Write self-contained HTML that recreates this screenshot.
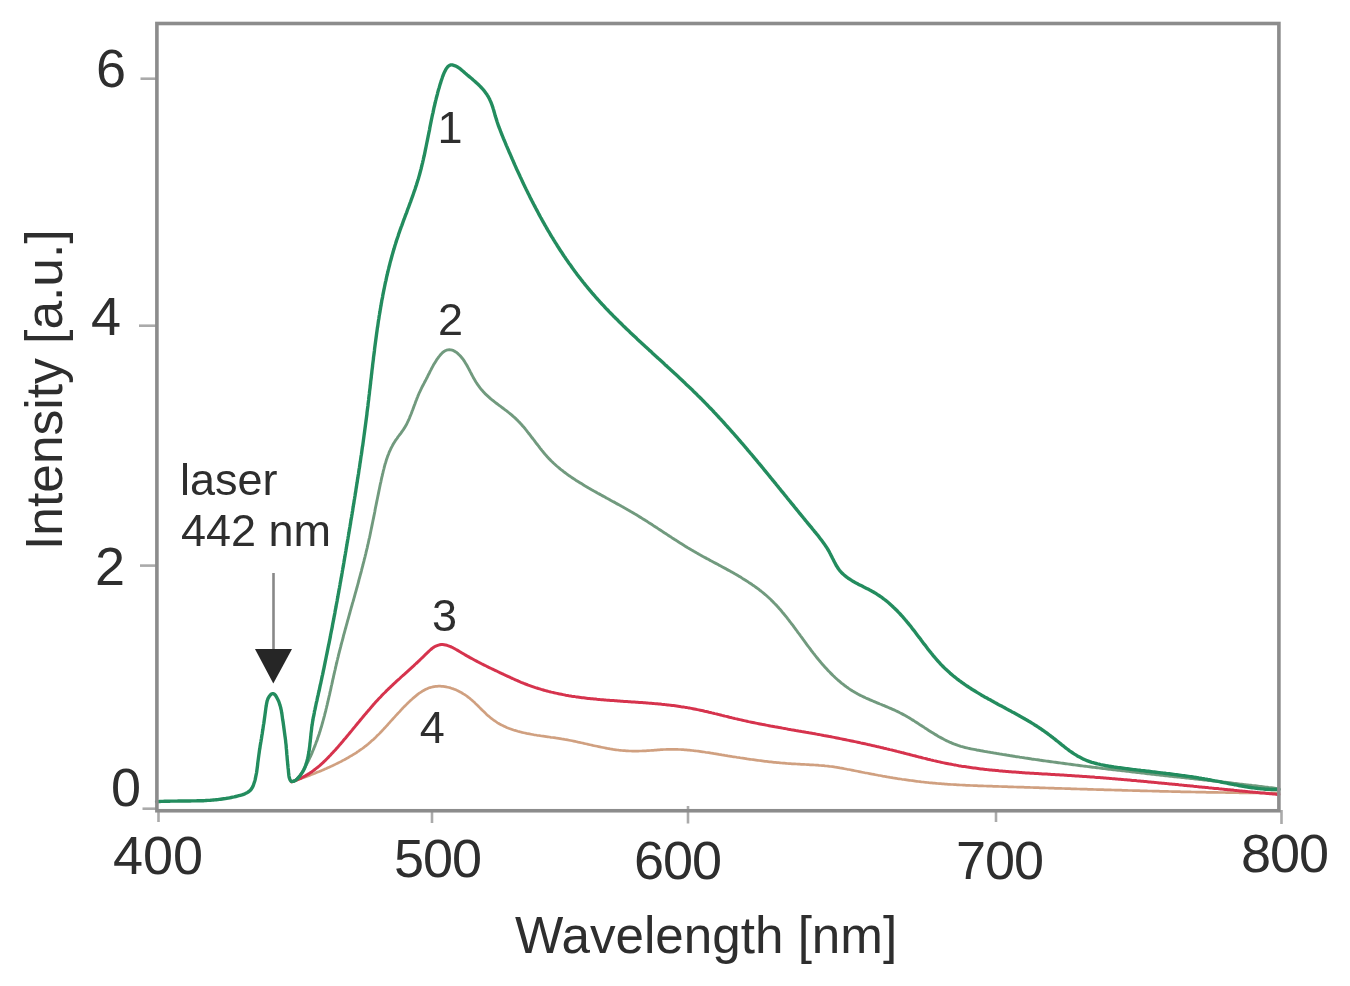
<!DOCTYPE html>
<html><head><meta charset="utf-8"><title>Photoluminescence spectra</title>
<style>
html,body{margin:0;padding:0;background:#fff;}
body{width:1350px;height:986px;overflow:hidden;}
svg{display:block;}
text{font-family:"Liberation Sans",Arial,sans-serif;fill:#2e2e2e;}
</style></head><body>
<svg width="1350" height="986" viewBox="0 0 1350 986">
<rect width="1350" height="986" fill="#fff"/>
<g fill="none" stroke-linejoin="round" stroke-linecap="round">
<path d="M291.8,782.0 L293.1,781.5 L294.4,781.0 L295.7,780.5 L297.1,780.0 L298.4,779.5 L299.8,779.0 L301.2,778.5 L302.5,778.0 L303.9,777.5 L305.3,777.0 L306.7,776.4 L308.1,775.9 L309.5,775.4 L310.9,774.8 L312.3,774.3 L313.7,773.7 L315.1,773.2 L316.5,772.6 L317.9,772.0 L319.3,771.5 L320.7,770.9 L322.2,770.3 L323.6,769.7 L325.0,769.1 L326.4,768.5 L327.8,767.8 L329.2,767.2 L330.6,766.6 L332.0,765.9 L333.4,765.3 L334.8,764.6 L336.2,763.9 L337.6,763.2 L338.9,762.6 L340.3,761.9 L341.7,761.2 L343.0,760.4 L344.4,759.7 L345.7,759.0 L347.1,758.2 L348.4,757.5 L349.7,756.7 L351.0,755.9 L352.3,755.2 L353.6,754.4 L354.9,753.6 L356.2,752.8 L357.4,751.9 L358.7,751.1 L359.9,750.2 L361.1,749.4 L362.4,748.5 L363.6,747.6 L364.7,746.7 L365.9,745.8 L367.1,744.9 L368.2,744.0 L369.3,743.0 L370.4,742.1 L371.5,741.1 L372.6,740.1 L373.7,739.2 L374.7,738.2 L375.8,737.2 L376.8,736.1 L377.9,735.1 L378.9,734.1 L379.9,733.1 L380.9,732.0 L381.9,731.0 L382.9,729.9 L383.9,728.8 L384.9,727.8 L385.9,726.7 L386.9,725.6 L387.9,724.5 L388.8,723.4 L389.8,722.3 L390.8,721.2 L391.8,720.1 L392.8,719.0 L393.8,717.9 L394.8,716.8 L395.8,715.7 L396.8,714.6 L397.8,713.5 L398.9,712.4 L399.9,711.3 L400.9,710.1 L402.0,709.0 L403.0,707.9 L404.1,706.8 L405.2,705.7 L406.3,704.6 L407.4,703.5 L408.5,702.4 L409.7,701.3 L410.8,700.2 L412.0,699.2 L413.2,698.1 L414.4,697.1 L415.6,696.1 L416.8,695.1 L418.0,694.1 L419.3,693.2 L420.6,692.4 L421.9,691.5 L423.2,690.7 L424.5,690.0 L425.8,689.3 L427.2,688.7 L428.6,688.1 L430.0,687.6 L431.4,687.2 L432.8,686.9 L434.2,686.6 L435.7,686.4 L437.1,686.3 L438.6,686.2 L440.1,686.2 L441.6,686.3 L443.1,686.4 L444.6,686.6 L446.1,686.9 L447.6,687.2 L449.1,687.5 L450.6,687.9 L452.0,688.4 L453.5,688.9 L455.0,689.5 L456.4,690.1 L457.8,690.8 L459.2,691.5 L460.6,692.2 L462.0,693.0 L463.3,693.8 L464.7,694.6 L466.0,695.5 L467.2,696.4 L468.4,697.3 L469.7,698.3 L470.8,699.3 L472.0,700.3 L473.1,701.3 L474.3,702.3 L475.4,703.4 L476.5,704.4 L477.6,705.5 L478.6,706.5 L479.7,707.6 L480.8,708.7 L481.8,709.7 L482.9,710.8 L484.0,711.8 L485.0,712.8 L486.1,713.9 L487.2,714.9 L488.3,715.9 L489.4,716.8 L490.5,717.7 L491.7,718.7 L492.8,719.5 L494.0,720.4 L495.2,721.2 L496.4,722.0 L497.6,722.8 L498.8,723.5 L500.1,724.3 L501.4,724.9 L502.7,725.6 L504.0,726.2 L505.3,726.8 L506.6,727.4 L508.0,728.0 L509.3,728.5 L510.7,729.0 L512.1,729.5 L513.5,730.0 L514.9,730.4 L516.3,730.8 L517.7,731.3 L519.2,731.6 L520.6,732.0 L522.1,732.4 L523.5,732.7 L525.0,733.0 L526.5,733.4 L528.0,733.7 L529.5,733.9 L531.0,734.2 L532.5,734.5 L534.0,734.8 L535.5,735.0 L537.0,735.3 L538.6,735.5 L540.1,735.7 L541.6,736.0 L543.2,736.2 L544.7,736.4 L546.2,736.6 L547.8,736.8 L549.3,737.0 L550.9,737.3 L552.4,737.5 L553.9,737.7 L555.5,737.9 L557.0,738.2 L558.5,738.4 L560.1,738.6 L561.6,738.9 L563.1,739.1 L564.6,739.4 L566.1,739.6 L567.6,739.9 L569.1,740.2 L570.6,740.5 L572.1,740.8 L573.6,741.1 L575.1,741.4 L576.6,741.7 L578.1,742.1 L579.5,742.4 L581.0,742.7 L582.5,743.0 L584.0,743.4 L585.4,743.7 L586.9,744.0 L588.3,744.4 L589.8,744.7 L591.3,745.0 L592.7,745.4 L594.2,745.7 L595.6,746.0 L597.1,746.3 L598.5,746.6 L600.0,746.9 L601.4,747.2 L602.9,747.5 L604.4,747.8 L605.8,748.1 L607.3,748.4 L608.7,748.6 L610.2,748.9 L611.6,749.1 L613.1,749.4 L614.5,749.6 L616.0,749.8 L617.5,750.0 L618.9,750.2 L620.4,750.3 L621.9,750.5 L623.4,750.6 L624.8,750.7 L626.3,750.8 L627.8,750.9 L629.3,751.0 L630.8,751.0 L632.3,751.1 L633.8,751.1 L635.3,751.1 L636.8,751.1 L638.3,751.1 L639.8,751.0 L641.3,751.0 L642.8,750.9 L644.3,750.9 L645.8,750.8 L647.3,750.7 L648.8,750.6 L650.3,750.5 L651.8,750.4 L653.3,750.3 L654.8,750.2 L656.3,750.1 L657.8,749.9 L659.3,749.8 L660.8,749.7 L662.3,749.6 L663.8,749.5 L665.3,749.5 L666.8,749.4 L668.3,749.4 L669.8,749.3 L671.3,749.3 L672.8,749.3 L674.3,749.3 L675.8,749.4 L677.3,749.4 L678.8,749.5 L680.3,749.5 L681.8,749.6 L683.3,749.7 L684.8,749.8 L686.3,749.9 L687.8,750.1 L689.2,750.2 L690.7,750.3 L692.2,750.5 L693.7,750.7 L695.2,750.8 L696.7,751.0 L698.2,751.2 L699.6,751.4 L701.1,751.6 L702.6,751.8 L704.1,752.0 L705.6,752.3 L707.1,752.5 L708.6,752.7 L710.0,752.9 L711.5,753.2 L713.0,753.4 L714.5,753.7 L716.0,753.9 L717.5,754.1 L718.9,754.4 L720.4,754.6 L721.9,754.9 L723.4,755.1 L724.9,755.4 L726.4,755.6 L727.8,755.9 L729.3,756.1 L730.8,756.3 L732.3,756.6 L733.8,756.8 L735.3,757.0 L736.8,757.3 L738.2,757.5 L739.7,757.7 L741.2,758.0 L742.7,758.2 L744.2,758.4 L745.7,758.6 L747.2,758.9 L748.7,759.1 L750.1,759.3 L751.6,759.5 L753.1,759.7 L754.6,759.9 L756.1,760.1 L757.6,760.3 L759.1,760.5 L760.6,760.7 L762.1,760.9 L763.6,761.1 L765.1,761.3 L766.6,761.4 L768.0,761.6 L769.5,761.8 L771.0,761.9 L772.5,762.1 L774.0,762.3 L775.5,762.4 L777.0,762.6 L778.5,762.7 L780.0,762.8 L781.5,763.0 L783.0,763.1 L784.5,763.2 L786.0,763.3 L787.5,763.5 L789.0,763.6 L790.5,763.7 L792.0,763.8 L793.5,763.9 L795.0,763.9 L796.5,764.0 L798.0,764.1 L799.5,764.2 L801.1,764.3 L802.6,764.4 L804.1,764.4 L805.6,764.5 L807.1,764.6 L808.6,764.7 L810.1,764.8 L811.6,764.8 L813.1,764.9 L814.6,765.0 L816.1,765.1 L817.6,765.2 L819.1,765.4 L820.6,765.5 L822.1,765.6 L823.6,765.7 L825.1,765.9 L826.6,766.0 L828.0,766.2 L829.5,766.4 L831.0,766.5 L832.5,766.7 L834.0,766.9 L835.5,767.2 L837.0,767.4 L838.4,767.6 L839.9,767.9 L841.4,768.1 L842.9,768.4 L844.4,768.7 L845.8,769.0 L847.3,769.3 L848.8,769.5 L850.3,769.8 L851.7,770.1 L853.2,770.4 L854.7,770.7 L856.2,771.0 L857.6,771.3 L859.1,771.6 L860.6,771.9 L862.1,772.2 L863.5,772.5 L865.0,772.8 L866.5,773.0 L868.0,773.3 L869.4,773.6 L870.9,773.9 L872.4,774.2 L873.9,774.4 L875.3,774.7 L876.8,775.0 L878.3,775.3 L879.8,775.5 L881.2,775.8 L882.7,776.1 L884.2,776.3 L885.7,776.6 L887.2,776.9 L888.6,777.1 L890.1,777.4 L891.6,777.6 L893.1,777.9 L894.6,778.1 L896.0,778.3 L897.5,778.6 L899.0,778.8 L900.5,779.0 L902.0,779.3 L903.5,779.5 L904.9,779.7 L906.4,779.9 L907.9,780.1 L909.4,780.3 L910.9,780.5 L912.4,780.7 L913.9,780.9 L915.3,781.1 L916.8,781.3 L918.3,781.5 L919.8,781.7 L921.3,781.9 L922.8,782.0 L924.3,782.2 L925.8,782.3 L927.3,782.5 L928.8,782.7 L930.3,782.8 L931.8,782.9 L933.2,783.1 L934.7,783.2 L936.2,783.3 L937.7,783.5 L939.2,783.6 L940.7,783.7 L942.2,783.8 L943.7,783.9 L945.2,784.1 L946.7,784.2 L948.2,784.3 L949.7,784.4 L951.2,784.5 L952.7,784.5 L954.2,784.6 L955.7,784.7 L957.2,784.8 L958.7,784.9 L960.2,785.0 L961.7,785.0 L963.2,785.1 L964.7,785.2 L966.2,785.3 L967.7,785.3 L969.2,785.4 L970.8,785.5 L972.3,785.5 L973.8,785.6 L975.3,785.7 L976.8,785.7 L978.3,785.8 L979.8,785.8 L981.3,785.9 L982.8,785.9 L984.3,786.0 L985.8,786.0 L987.3,786.1 L988.8,786.1 L990.3,786.2 L991.8,786.2 L993.3,786.3 L994.8,786.3 L996.3,786.4 L997.8,786.4 L999.4,786.5 L1000.9,786.5 L1002.4,786.6 L1003.9,786.6 L1005.4,786.7 L1006.9,786.7 L1008.4,786.8 L1009.9,786.8 L1011.4,786.9 L1012.9,786.9 L1014.4,787.0 L1015.9,787.0 L1017.4,787.1 L1018.9,787.1 L1020.4,787.2 L1021.9,787.2 L1023.4,787.2 L1024.9,787.3 L1026.4,787.3 L1027.9,787.4 L1029.4,787.4 L1030.9,787.5 L1032.5,787.5 L1034.0,787.6 L1035.5,787.6 L1037.0,787.7 L1038.5,787.7 L1040.0,787.8 L1041.5,787.8 L1043.0,787.9 L1044.5,787.9 L1046.0,788.0 L1047.5,788.0 L1049.0,788.1 L1050.5,788.1 L1052.0,788.2 L1053.5,788.2 L1055.0,788.3 L1056.5,788.3 L1058.0,788.4 L1059.5,788.4 L1061.0,788.4 L1062.5,788.5 L1064.0,788.5 L1065.5,788.6 L1067.0,788.6 L1068.5,788.7 L1070.0,788.7 L1071.5,788.8 L1073.0,788.8 L1074.5,788.9 L1076.1,788.9 L1077.6,789.0 L1079.1,789.0 L1080.6,789.1 L1082.1,789.1 L1083.6,789.1 L1085.1,789.2 L1086.6,789.2 L1088.1,789.3 L1089.6,789.3 L1091.1,789.4 L1092.6,789.4 L1094.1,789.5 L1095.6,789.5 L1097.1,789.6 L1098.6,789.6 L1100.1,789.6 L1101.6,789.7 L1103.1,789.7 L1104.6,789.8 L1106.1,789.8 L1107.6,789.9 L1109.1,789.9 L1110.6,789.9 L1112.1,790.0 L1113.6,790.0 L1115.1,790.1 L1116.6,790.1 L1118.1,790.2 L1119.6,790.2 L1121.1,790.2 L1122.6,790.3 L1124.1,790.3 L1125.6,790.4 L1127.1,790.4 L1128.6,790.5 L1130.1,790.5 L1131.6,790.5 L1133.1,790.6 L1134.7,790.6 L1136.2,790.7 L1137.7,790.7 L1139.2,790.7 L1140.7,790.8 L1142.2,790.8 L1143.7,790.9 L1145.2,790.9 L1146.7,790.9 L1148.2,791.0 L1149.7,791.0 L1151.2,791.0 L1152.7,791.1 L1154.2,791.1 L1155.7,791.2 L1157.2,791.2 L1158.7,791.2 L1160.2,791.3 L1161.7,791.3 L1163.2,791.3 L1164.7,791.4 L1166.2,791.4 L1167.7,791.4 L1169.2,791.5 L1170.7,791.5 L1172.2,791.6 L1173.7,791.6 L1175.2,791.6 L1176.7,791.7 L1178.2,791.7 L1179.7,791.7 L1181.2,791.8 L1182.7,791.8 L1184.2,791.8 L1185.7,791.8 L1187.2,791.9 L1188.7,791.9 L1190.3,791.9 L1191.8,792.0 L1193.3,792.0 L1194.8,792.0 L1196.3,792.1 L1197.8,792.1 L1199.3,792.1 L1200.8,792.1 L1202.3,792.2 L1203.8,792.2 L1205.3,792.2 L1206.8,792.3 L1208.3,792.3 L1209.8,792.3 L1211.3,792.3 L1212.8,792.4 L1214.3,792.4 L1215.8,792.4 L1217.3,792.4 L1218.8,792.5 L1220.3,792.5 L1221.8,792.5 L1223.3,792.5 L1224.8,792.5 L1226.3,792.6 L1227.8,792.6 L1229.3,792.6 L1230.8,792.6 L1232.4,792.7 L1233.9,792.7 L1235.4,792.7 L1236.9,792.7 L1238.4,792.7 L1239.9,792.8 L1241.4,792.8 L1242.9,792.8 L1244.4,792.8 L1245.9,792.8 L1247.4,792.8 L1248.9,792.9 L1250.4,792.9 L1251.9,792.9 L1253.4,792.9 L1254.9,792.9 L1256.4,792.9 L1257.9,792.9 L1259.4,793.0 L1260.9,793.0 L1262.4,793.0 L1264.0,793.0 L1265.5,793.0 L1267.0,793.0 L1268.5,793.0 L1270.0,793.0 L1271.5,793.0 L1273.0,793.1 L1274.5,793.1 L1276.0,793.1 L1277.5,793.1 L1279.0,793.1" stroke="#d0a080" stroke-width="2.7"/>
<path d="M291.3,781.8 L292.8,781.4 L294.3,780.9 L295.7,780.3 L297.1,779.8 L298.5,779.2 L299.9,778.6 L301.3,778.0 L302.6,777.3 L303.9,776.6 L305.3,775.9 L306.5,775.1 L307.8,774.4 L309.1,773.6 L310.3,772.8 L311.5,772.0 L312.7,771.1 L313.9,770.2 L315.1,769.3 L316.2,768.4 L317.4,767.5 L318.5,766.6 L319.7,765.6 L320.8,764.6 L321.9,763.6 L323.0,762.6 L324.0,761.6 L325.1,760.6 L326.2,759.5 L327.2,758.5 L328.3,757.4 L329.3,756.3 L330.4,755.2 L331.4,754.1 L332.4,753.0 L333.4,751.9 L334.5,750.8 L335.5,749.7 L336.5,748.5 L337.5,747.4 L338.5,746.3 L339.5,745.1 L340.5,744.0 L341.5,742.8 L342.5,741.7 L343.4,740.5 L344.4,739.3 L345.4,738.2 L346.4,737.0 L347.4,735.8 L348.4,734.6 L349.3,733.5 L350.3,732.3 L351.3,731.1 L352.3,729.9 L353.2,728.7 L354.2,727.6 L355.2,726.4 L356.1,725.2 L357.1,724.0 L358.1,722.8 L359.1,721.7 L360.0,720.5 L361.0,719.3 L362.0,718.1 L362.9,717.0 L363.9,715.8 L364.9,714.6 L365.9,713.5 L366.8,712.3 L367.8,711.2 L368.8,710.0 L369.8,708.9 L370.8,707.7 L371.8,706.6 L372.7,705.5 L373.7,704.3 L374.7,703.2 L375.7,702.1 L376.7,701.0 L377.7,699.9 L378.7,698.8 L379.8,697.7 L380.8,696.7 L381.8,695.6 L382.8,694.5 L383.8,693.5 L384.9,692.5 L385.9,691.4 L386.9,690.4 L388.0,689.4 L389.0,688.4 L390.1,687.4 L391.1,686.4 L392.2,685.4 L393.2,684.4 L394.3,683.4 L395.4,682.4 L396.4,681.4 L397.5,680.4 L398.6,679.5 L399.7,678.5 L400.7,677.5 L401.8,676.5 L402.9,675.5 L404.0,674.6 L405.1,673.6 L406.2,672.6 L407.3,671.6 L408.4,670.6 L409.5,669.6 L410.6,668.6 L411.7,667.6 L412.8,666.6 L413.9,665.6 L415.0,664.5 L416.1,663.5 L417.3,662.5 L418.4,661.4 L419.5,660.4 L420.6,659.3 L421.7,658.2 L422.9,657.1 L424.0,656.0 L425.1,654.9 L426.2,653.8 L427.4,652.7 L428.5,651.6 L429.7,650.5 L430.8,649.5 L432.0,648.5 L433.2,647.6 L434.5,646.8 L435.8,646.1 L437.1,645.6 L438.5,645.1 L439.8,644.8 L441.2,644.6 L442.7,644.6 L444.1,644.7 L445.5,645.0 L447.0,645.3 L448.4,645.8 L449.9,646.4 L451.4,647.0 L452.8,647.7 L454.3,648.5 L455.7,649.3 L457.2,650.1 L458.6,650.9 L460.0,651.8 L461.5,652.7 L462.9,653.5 L464.2,654.3 L465.6,655.1 L466.9,655.9 L468.3,656.6 L469.6,657.4 L470.9,658.1 L472.2,658.8 L473.5,659.5 L474.8,660.2 L476.1,660.9 L477.4,661.6 L478.6,662.2 L479.9,662.9 L481.1,663.5 L482.4,664.2 L483.7,664.8 L484.9,665.4 L486.2,666.0 L487.4,666.7 L488.7,667.3 L489.9,667.9 L491.2,668.5 L492.5,669.1 L493.7,669.7 L495.0,670.3 L496.3,670.9 L497.6,671.5 L498.9,672.2 L500.2,672.8 L501.5,673.4 L502.9,674.0 L504.2,674.7 L505.6,675.3 L507.0,676.0 L508.4,676.6 L509.7,677.2 L511.1,677.9 L512.5,678.5 L514.0,679.2 L515.4,679.8 L516.8,680.4 L518.2,681.0 L519.6,681.7 L521.1,682.3 L522.5,682.8 L523.9,683.4 L525.4,684.0 L526.8,684.5 L528.2,685.1 L529.7,685.6 L531.1,686.1 L532.5,686.6 L534.0,687.1 L535.4,687.6 L536.8,688.0 L538.3,688.5 L539.7,688.9 L541.2,689.4 L542.6,689.8 L544.0,690.2 L545.5,690.6 L546.9,691.0 L548.4,691.4 L549.8,691.7 L551.3,692.1 L552.7,692.4 L554.2,692.8 L555.6,693.1 L557.1,693.4 L558.5,693.7 L560.0,694.1 L561.5,694.3 L562.9,694.6 L564.4,694.9 L565.8,695.2 L567.3,695.4 L568.8,695.7 L570.3,695.9 L571.7,696.2 L573.2,696.4 L574.7,696.6 L576.2,696.9 L577.6,697.1 L579.1,697.3 L580.6,697.5 L582.1,697.7 L583.6,697.8 L585.1,698.0 L586.5,698.2 L588.0,698.4 L589.5,698.5 L591.0,698.7 L592.5,698.8 L594.0,699.0 L595.5,699.1 L597.0,699.3 L598.5,699.4 L600.0,699.6 L601.5,699.7 L603.0,699.8 L604.5,699.9 L606.0,700.1 L607.5,700.2 L609.0,700.3 L610.5,700.4 L612.0,700.5 L613.5,700.6 L615.0,700.7 L616.5,700.8 L618.0,701.0 L619.5,701.1 L621.0,701.2 L622.5,701.3 L624.1,701.4 L625.6,701.5 L627.1,701.6 L628.6,701.7 L630.1,701.8 L631.6,701.9 L633.1,702.0 L634.6,702.1 L636.1,702.2 L637.6,702.3 L639.1,702.4 L640.6,702.5 L642.1,702.6 L643.6,702.7 L645.1,702.8 L646.7,702.9 L648.2,703.1 L649.7,703.2 L651.2,703.3 L652.7,703.4 L654.2,703.6 L655.7,703.7 L657.2,703.8 L658.7,704.0 L660.2,704.1 L661.7,704.3 L663.2,704.4 L664.7,704.6 L666.2,704.7 L667.7,704.9 L669.2,705.1 L670.6,705.2 L672.1,705.4 L673.6,705.6 L675.1,705.8 L676.6,706.0 L678.1,706.2 L679.6,706.4 L681.1,706.7 L682.5,706.9 L684.0,707.1 L685.5,707.4 L687.0,707.6 L688.5,707.9 L689.9,708.1 L691.4,708.4 L692.9,708.7 L694.3,709.0 L695.8,709.3 L697.3,709.6 L698.7,709.9 L700.2,710.2 L701.7,710.5 L703.1,710.8 L704.6,711.2 L706.1,711.5 L707.5,711.8 L709.0,712.2 L710.4,712.5 L711.9,712.9 L713.4,713.2 L714.8,713.6 L716.3,713.9 L717.7,714.3 L719.2,714.6 L720.6,715.0 L722.1,715.4 L723.5,715.7 L725.0,716.1 L726.5,716.4 L727.9,716.8 L729.4,717.2 L730.8,717.5 L732.3,717.9 L733.7,718.2 L735.2,718.6 L736.7,718.9 L738.1,719.3 L739.6,719.6 L741.1,719.9 L742.5,720.3 L744.0,720.6 L745.4,720.9 L746.9,721.2 L748.4,721.6 L749.8,721.9 L751.3,722.2 L752.8,722.5 L754.3,722.8 L755.7,723.1 L757.2,723.4 L758.7,723.7 L760.1,724.0 L761.6,724.3 L763.1,724.6 L764.6,724.8 L766.0,725.1 L767.5,725.4 L769.0,725.7 L770.5,726.0 L772.0,726.2 L773.4,726.5 L774.9,726.8 L776.4,727.0 L777.9,727.3 L779.3,727.6 L780.8,727.8 L782.3,728.1 L783.8,728.4 L785.3,728.6 L786.7,728.9 L788.2,729.2 L789.7,729.4 L791.2,729.7 L792.7,729.9 L794.2,730.2 L795.6,730.5 L797.1,730.7 L798.6,731.0 L800.1,731.2 L801.6,731.5 L803.0,731.7 L804.5,732.0 L806.0,732.3 L807.5,732.5 L809.0,732.8 L810.4,733.0 L811.9,733.3 L813.4,733.6 L814.9,733.8 L816.4,734.1 L817.8,734.4 L819.3,734.6 L820.8,734.9 L822.3,735.2 L823.8,735.5 L825.2,735.7 L826.7,736.0 L828.2,736.3 L829.7,736.6 L831.1,736.8 L832.6,737.1 L834.1,737.4 L835.6,737.7 L837.0,738.0 L838.5,738.3 L840.0,738.6 L841.5,738.9 L842.9,739.2 L844.4,739.5 L845.9,739.8 L847.3,740.1 L848.8,740.4 L850.3,740.7 L851.7,741.0 L853.2,741.3 L854.7,741.6 L856.2,741.9 L857.6,742.2 L859.1,742.5 L860.6,742.9 L862.0,743.2 L863.5,743.5 L865.0,743.8 L866.4,744.1 L867.9,744.5 L869.4,744.8 L870.8,745.1 L872.3,745.5 L873.8,745.8 L875.2,746.1 L876.7,746.5 L878.1,746.8 L879.6,747.1 L881.1,747.5 L882.5,747.8 L884.0,748.2 L885.5,748.5 L886.9,748.9 L888.4,749.2 L889.8,749.6 L891.3,749.9 L892.8,750.3 L894.2,750.6 L895.7,751.0 L897.1,751.4 L898.6,751.7 L900.1,752.1 L901.5,752.5 L903.0,752.8 L904.4,753.2 L905.9,753.6 L907.4,754.0 L908.8,754.3 L910.3,754.7 L911.7,755.1 L913.2,755.5 L914.7,755.8 L916.1,756.2 L917.6,756.6 L919.0,757.0 L920.5,757.3 L922.0,757.7 L923.4,758.1 L924.9,758.4 L926.3,758.8 L927.8,759.2 L929.3,759.5 L930.7,759.9 L932.2,760.2 L933.7,760.6 L935.1,760.9 L936.6,761.3 L938.0,761.6 L939.5,761.9 L941.0,762.3 L942.5,762.6 L943.9,762.9 L945.4,763.2 L946.9,763.5 L948.3,763.8 L949.8,764.1 L951.3,764.3 L952.8,764.6 L954.2,764.9 L955.7,765.1 L957.2,765.4 L958.7,765.7 L960.1,765.9 L961.6,766.2 L963.1,766.4 L964.6,766.6 L966.1,766.8 L967.6,767.1 L969.0,767.3 L970.5,767.5 L972.0,767.7 L973.5,767.9 L975.0,768.1 L976.5,768.3 L978.0,768.5 L979.4,768.7 L980.9,768.9 L982.4,769.0 L983.9,769.2 L985.4,769.4 L986.9,769.6 L988.4,769.7 L989.9,769.9 L991.4,770.0 L992.9,770.2 L994.4,770.3 L995.9,770.5 L997.4,770.6 L998.9,770.8 L1000.4,770.9 L1001.9,771.0 L1003.3,771.2 L1004.8,771.3 L1006.3,771.4 L1007.8,771.5 L1009.3,771.7 L1010.8,771.8 L1012.3,771.9 L1013.8,772.0 L1015.3,772.1 L1016.8,772.2 L1018.3,772.3 L1019.8,772.5 L1021.3,772.6 L1022.8,772.7 L1024.3,772.8 L1025.8,772.9 L1027.4,773.0 L1028.9,773.1 L1030.4,773.2 L1031.9,773.2 L1033.4,773.3 L1034.9,773.4 L1036.4,773.5 L1037.9,773.6 L1039.4,773.7 L1040.9,773.8 L1042.4,773.9 L1043.9,774.0 L1045.4,774.1 L1046.9,774.1 L1048.4,774.2 L1049.9,774.3 L1051.4,774.4 L1052.9,774.5 L1054.4,774.6 L1055.9,774.7 L1057.4,774.8 L1058.9,774.8 L1060.4,774.9 L1061.9,775.0 L1063.4,775.1 L1064.9,775.2 L1066.4,775.3 L1067.9,775.4 L1069.4,775.5 L1070.9,775.6 L1072.5,775.7 L1074.0,775.8 L1075.5,775.9 L1077.0,776.0 L1078.5,776.1 L1080.0,776.2 L1081.5,776.3 L1083.0,776.4 L1084.5,776.5 L1086.0,776.6 L1087.5,776.7 L1089.0,776.8 L1090.5,776.9 L1092.0,777.0 L1093.5,777.1 L1095.0,777.3 L1096.5,777.4 L1098.0,777.5 L1099.5,777.6 L1101.0,777.7 L1102.5,777.8 L1104.0,778.0 L1105.5,778.1 L1107.0,778.2 L1108.5,778.3 L1110.0,778.4 L1111.5,778.6 L1113.0,778.7 L1114.5,778.8 L1115.9,778.9 L1117.4,779.1 L1118.9,779.2 L1120.4,779.3 L1121.9,779.4 L1123.4,779.6 L1124.9,779.7 L1126.4,779.8 L1127.9,780.0 L1129.4,780.1 L1130.9,780.2 L1132.4,780.4 L1133.9,780.5 L1135.4,780.6 L1136.9,780.8 L1138.4,780.9 L1139.9,781.0 L1141.4,781.2 L1142.9,781.3 L1144.4,781.5 L1145.9,781.6 L1147.4,781.7 L1148.9,781.9 L1150.4,782.0 L1151.9,782.2 L1153.4,782.3 L1154.9,782.4 L1156.3,782.6 L1157.8,782.7 L1159.3,782.9 L1160.8,783.0 L1162.3,783.2 L1163.8,783.3 L1165.3,783.4 L1166.8,783.6 L1168.3,783.7 L1169.8,783.9 L1171.3,784.0 L1172.8,784.2 L1174.3,784.3 L1175.8,784.5 L1177.3,784.6 L1178.8,784.8 L1180.3,784.9 L1181.8,785.1 L1183.3,785.2 L1184.8,785.4 L1186.2,785.5 L1187.7,785.7 L1189.2,785.8 L1190.7,786.0 L1192.2,786.1 L1193.7,786.3 L1195.2,786.4 L1196.7,786.6 L1198.2,786.7 L1199.7,786.9 L1201.2,787.0 L1202.7,787.2 L1204.2,787.3 L1205.7,787.5 L1207.2,787.6 L1208.7,787.8 L1210.2,787.9 L1211.7,788.1 L1213.1,788.2 L1214.6,788.4 L1216.1,788.5 L1217.6,788.6 L1219.1,788.8 L1220.6,788.9 L1222.1,789.1 L1223.6,789.2 L1225.1,789.4 L1226.6,789.5 L1228.1,789.7 L1229.6,789.8 L1231.1,790.0 L1232.6,790.1 L1234.1,790.3 L1235.6,790.4 L1237.1,790.6 L1238.6,790.7 L1240.1,790.9 L1241.6,791.0 L1243.1,791.2 L1244.6,791.3 L1246.0,791.4 L1247.5,791.6 L1249.0,791.7 L1250.5,791.9 L1252.0,792.0 L1253.5,792.2 L1255.0,792.3 L1256.5,792.4 L1258.0,792.6 L1259.5,792.7 L1261.0,792.9 L1262.5,793.0 L1264.0,793.1 L1265.5,793.3 L1267.0,793.4 L1268.5,793.5 L1270.0,793.7 L1271.5,793.8 L1273.0,794.0 L1274.5,794.1 L1276.0,794.2 L1277.5,794.4 L1279.0,794.5" stroke="#d6334d" stroke-width="3"/>
<path d="M291.3,781.6 L292.9,781.4 L294.3,780.9 L295.5,780.3 L296.7,779.4 L297.8,778.4 L298.8,777.3 L299.7,776.0 L300.6,774.7 L301.4,773.4 L302.2,772.1 L303.0,770.7 L303.8,769.4 L304.6,768.1 L305.3,766.7 L306.0,765.4 L306.7,764.0 L307.4,762.7 L308.1,761.4 L308.8,760.0 L309.4,758.7 L310.0,757.3 L310.7,756.0 L311.3,754.6 L311.9,753.3 L312.4,751.9 L313.0,750.5 L313.6,749.2 L314.1,747.8 L314.7,746.4 L315.2,745.0 L315.7,743.7 L316.2,742.3 L316.8,740.9 L317.3,739.5 L317.7,738.1 L318.2,736.7 L318.7,735.3 L319.2,733.9 L319.6,732.4 L320.1,731.0 L320.5,729.6 L320.9,728.2 L321.4,726.8 L321.8,725.3 L322.2,723.9 L322.6,722.5 L323.0,721.0 L323.4,719.6 L323.8,718.1 L324.2,716.7 L324.6,715.3 L324.9,713.8 L325.3,712.4 L325.7,710.9 L326.0,709.5 L326.4,708.0 L326.7,706.5 L327.1,705.1 L327.4,703.6 L327.8,702.2 L328.1,700.7 L328.5,699.2 L328.8,697.8 L329.1,696.3 L329.5,694.8 L329.8,693.4 L330.1,691.9 L330.5,690.4 L330.8,689.0 L331.1,687.5 L331.4,686.0 L331.8,684.5 L332.1,683.1 L332.4,681.6 L332.7,680.1 L333.1,678.7 L333.4,677.2 L333.7,675.7 L334.1,674.2 L334.4,672.8 L334.7,671.3 L335.1,669.8 L335.4,668.4 L335.7,666.9 L336.1,665.4 L336.4,663.9 L336.8,662.5 L337.1,661.0 L337.5,659.5 L337.8,658.1 L338.2,656.6 L338.5,655.2 L338.9,653.7 L339.3,652.2 L339.6,650.8 L340.0,649.3 L340.4,647.9 L340.8,646.4 L341.1,644.9 L341.5,643.5 L341.9,642.0 L342.3,640.6 L342.7,639.1 L343.1,637.7 L343.4,636.2 L343.8,634.7 L344.2,633.3 L344.6,631.8 L345.0,630.4 L345.4,628.9 L345.8,627.5 L346.2,626.0 L346.6,624.6 L347.0,623.1 L347.4,621.7 L347.8,620.2 L348.2,618.8 L348.6,617.3 L349.0,615.9 L349.4,614.4 L349.8,613.0 L350.2,611.5 L350.6,610.1 L351.0,608.7 L351.4,607.2 L351.8,605.8 L352.2,604.3 L352.6,602.9 L353.1,601.4 L353.5,600.0 L353.9,598.5 L354.3,597.1 L354.7,595.6 L355.1,594.2 L355.5,592.7 L355.9,591.3 L356.3,589.9 L356.7,588.4 L357.1,587.0 L357.5,585.5 L357.9,584.1 L358.3,582.6 L358.7,581.2 L359.0,579.7 L359.4,578.3 L359.8,576.8 L360.2,575.4 L360.6,573.9 L361.0,572.5 L361.4,571.0 L361.7,569.6 L362.1,568.1 L362.5,566.7 L362.9,565.2 L363.2,563.8 L363.6,562.3 L364.0,560.9 L364.3,559.4 L364.7,558.0 L365.1,556.5 L365.4,555.1 L365.8,553.6 L366.1,552.2 L366.5,550.7 L366.8,549.3 L367.2,547.8 L367.5,546.4 L367.8,544.9 L368.2,543.4 L368.5,542.0 L368.8,540.5 L369.1,539.1 L369.5,537.6 L369.8,536.2 L370.1,534.7 L370.4,533.2 L370.7,531.8 L371.0,530.3 L371.3,528.8 L371.6,527.4 L371.9,525.9 L372.2,524.4 L372.5,523.0 L372.8,521.5 L373.1,520.0 L373.4,518.6 L373.7,517.1 L374.0,515.6 L374.3,514.2 L374.6,512.7 L374.9,511.2 L375.1,509.8 L375.4,508.3 L375.7,506.8 L376.0,505.4 L376.3,503.9 L376.6,502.4 L376.9,500.9 L377.2,499.5 L377.5,498.0 L377.8,496.5 L378.1,495.1 L378.4,493.6 L378.7,492.1 L379.0,490.6 L379.3,489.2 L379.6,487.7 L379.9,486.2 L380.2,484.7 L380.5,483.3 L380.9,481.8 L381.2,480.3 L381.5,478.8 L381.8,477.4 L382.2,475.9 L382.5,474.4 L382.9,472.9 L383.2,471.5 L383.6,470.0 L384.0,468.5 L384.3,467.1 L384.7,465.6 L385.1,464.1 L385.6,462.7 L386.0,461.3 L386.4,459.8 L386.9,458.4 L387.4,457.0 L387.9,455.6 L388.5,454.2 L389.0,452.8 L389.6,451.4 L390.2,450.1 L390.8,448.7 L391.5,447.4 L392.2,446.1 L392.9,444.7 L393.6,443.5 L394.4,442.2 L395.2,440.9 L396.1,439.7 L397.0,438.5 L397.8,437.2 L398.7,436.0 L399.6,434.8 L400.6,433.6 L401.4,432.4 L402.3,431.1 L403.2,429.9 L404.0,428.6 L404.8,427.4 L405.6,426.1 L406.3,424.8 L407.0,423.4 L407.6,422.1 L408.3,420.7 L408.9,419.4 L409.5,418.0 L410.0,416.6 L410.6,415.2 L411.2,413.8 L411.7,412.4 L412.2,411.0 L412.8,409.6 L413.3,408.2 L413.8,406.8 L414.3,405.4 L414.9,404.0 L415.4,402.6 L415.9,401.1 L416.5,399.7 L417.0,398.3 L417.6,397.0 L418.1,395.6 L418.7,394.2 L419.3,392.8 L420.0,391.4 L420.6,390.1 L421.3,388.7 L421.9,387.4 L422.6,386.0 L423.3,384.7 L424.0,383.4 L424.7,382.0 L425.4,380.7 L426.1,379.4 L426.8,378.0 L427.5,376.7 L428.1,375.4 L428.8,374.0 L429.5,372.7 L430.1,371.4 L430.8,370.1 L431.5,368.7 L432.2,367.4 L432.9,366.1 L433.6,364.8 L434.4,363.5 L435.2,362.2 L436.0,360.9 L436.8,359.6 L437.7,358.4 L438.6,357.1 L439.6,355.9 L440.6,354.6 L441.7,353.5 L442.8,352.4 L444.0,351.5 L445.2,350.8 L446.5,350.2 L447.9,349.9 L449.3,349.8 L450.8,349.9 L452.2,350.2 L453.6,350.7 L454.9,351.4 L456.2,352.2 L457.4,353.1 L458.5,354.2 L459.6,355.3 L460.7,356.4 L461.6,357.5 L462.6,358.7 L463.5,359.9 L464.3,361.1 L465.1,362.4 L465.9,363.7 L466.7,365.0 L467.4,366.3 L468.1,367.6 L468.8,368.9 L469.5,370.2 L470.2,371.6 L470.9,372.9 L471.6,374.3 L472.3,375.6 L473.0,376.9 L473.7,378.3 L474.5,379.6 L475.3,380.9 L476.1,382.2 L476.9,383.4 L477.7,384.7 L478.6,385.9 L479.5,387.1 L480.4,388.3 L481.3,389.5 L482.3,390.6 L483.3,391.7 L484.3,392.8 L485.3,393.9 L486.4,394.9 L487.5,395.9 L488.6,396.9 L489.7,397.9 L490.8,398.9 L492.0,399.8 L493.1,400.7 L494.3,401.7 L495.5,402.6 L496.7,403.5 L497.9,404.4 L499.1,405.3 L500.3,406.2 L501.5,407.1 L502.7,408.0 L503.9,408.9 L505.1,409.8 L506.3,410.7 L507.5,411.6 L508.6,412.5 L509.8,413.5 L511.0,414.4 L512.1,415.4 L513.2,416.4 L514.4,417.4 L515.5,418.4 L516.5,419.4 L517.6,420.4 L518.6,421.5 L519.7,422.6 L520.7,423.7 L521.7,424.8 L522.7,426.0 L523.7,427.1 L524.7,428.2 L525.6,429.4 L526.6,430.6 L527.5,431.8 L528.4,433.0 L529.4,434.2 L530.3,435.4 L531.2,436.6 L532.1,437.8 L533.1,439.0 L534.0,440.2 L534.9,441.4 L535.8,442.6 L536.7,443.8 L537.7,445.0 L538.6,446.2 L539.5,447.4 L540.4,448.6 L541.4,449.8 L542.3,451.0 L543.3,452.1 L544.2,453.3 L545.2,454.4 L546.2,455.6 L547.2,456.7 L548.2,457.8 L549.2,458.9 L550.3,459.9 L551.3,461.0 L552.4,462.0 L553.4,463.0 L554.5,464.0 L555.6,465.0 L556.7,466.0 L557.9,467.0 L559.0,467.9 L560.1,468.9 L561.3,469.8 L562.5,470.7 L563.6,471.6 L564.8,472.5 L566.0,473.4 L567.2,474.3 L568.4,475.2 L569.6,476.0 L570.9,476.9 L572.1,477.7 L573.3,478.5 L574.6,479.3 L575.8,480.2 L577.1,481.0 L578.4,481.8 L579.6,482.6 L580.9,483.3 L582.2,484.1 L583.5,484.9 L584.8,485.7 L586.0,486.4 L587.3,487.2 L588.6,488.0 L589.9,488.7 L591.2,489.5 L592.5,490.2 L593.9,491.0 L595.2,491.7 L596.5,492.4 L597.8,493.2 L599.1,493.9 L600.4,494.6 L601.8,495.4 L603.1,496.1 L604.4,496.8 L605.7,497.6 L607.0,498.3 L608.4,499.0 L609.7,499.7 L611.0,500.5 L612.3,501.2 L613.7,501.9 L615.0,502.6 L616.3,503.4 L617.6,504.1 L618.9,504.8 L620.2,505.5 L621.6,506.3 L622.9,507.0 L624.2,507.8 L625.5,508.5 L626.8,509.2 L628.1,510.0 L629.4,510.7 L630.7,511.5 L632.0,512.2 L633.3,513.0 L634.6,513.8 L635.9,514.5 L637.2,515.3 L638.4,516.1 L639.7,516.9 L641.0,517.6 L642.2,518.4 L643.5,519.2 L644.8,520.0 L646.0,520.8 L647.3,521.6 L648.5,522.4 L649.8,523.2 L651.1,524.0 L652.3,524.8 L653.5,525.7 L654.8,526.5 L656.0,527.3 L657.3,528.1 L658.5,528.9 L659.8,529.7 L661.0,530.5 L662.3,531.4 L663.5,532.2 L664.7,533.0 L666.0,533.8 L667.2,534.6 L668.5,535.5 L669.7,536.3 L671.0,537.1 L672.2,537.9 L673.5,538.7 L674.7,539.5 L676.0,540.3 L677.2,541.1 L678.5,541.9 L679.7,542.7 L681.0,543.5 L682.3,544.3 L683.5,545.1 L684.8,545.9 L686.1,546.7 L687.3,547.5 L688.6,548.2 L689.9,549.0 L691.2,549.8 L692.5,550.5 L693.8,551.3 L695.1,552.0 L696.4,552.8 L697.7,553.5 L699.0,554.3 L700.3,555.0 L701.6,555.7 L703.0,556.5 L704.3,557.2 L705.6,557.9 L706.9,558.6 L708.3,559.3 L709.6,560.1 L710.9,560.8 L712.3,561.5 L713.6,562.2 L714.9,562.9 L716.3,563.6 L717.6,564.3 L718.9,565.1 L720.3,565.8 L721.6,566.5 L722.9,567.2 L724.2,567.9 L725.6,568.6 L726.9,569.4 L728.2,570.1 L729.5,570.8 L730.9,571.6 L732.2,572.3 L733.5,573.0 L734.8,573.8 L736.1,574.5 L737.4,575.3 L738.7,576.1 L740.0,576.8 L741.3,577.6 L742.5,578.4 L743.8,579.2 L745.1,580.0 L746.3,580.8 L747.6,581.6 L748.8,582.4 L750.1,583.2 L751.3,584.0 L752.5,584.9 L753.8,585.7 L755.0,586.6 L756.2,587.5 L757.4,588.3 L758.6,589.2 L759.7,590.1 L760.9,591.0 L762.1,592.0 L763.2,592.9 L764.4,593.9 L765.5,594.8 L766.6,595.8 L767.7,596.8 L768.8,597.8 L769.9,598.8 L771.0,599.8 L772.0,600.9 L773.1,601.9 L774.1,603.0 L775.1,604.0 L776.2,605.1 L777.2,606.2 L778.2,607.3 L779.2,608.5 L780.2,609.6 L781.2,610.7 L782.1,611.9 L783.1,613.0 L784.1,614.2 L785.0,615.3 L786.0,616.5 L786.9,617.7 L787.8,618.9 L788.8,620.1 L789.7,621.3 L790.6,622.5 L791.5,623.7 L792.5,624.9 L793.4,626.1 L794.3,627.4 L795.2,628.6 L796.1,629.8 L797.0,631.0 L797.9,632.3 L798.8,633.5 L799.7,634.7 L800.6,636.0 L801.5,637.2 L802.4,638.4 L803.3,639.7 L804.2,640.9 L805.1,642.1 L806.0,643.3 L806.9,644.6 L807.8,645.8 L808.7,647.0 L809.6,648.2 L810.5,649.4 L811.4,650.7 L812.4,651.9 L813.3,653.1 L814.2,654.2 L815.1,655.4 L816.1,656.6 L817.0,657.8 L818.0,659.0 L818.9,660.1 L819.9,661.3 L820.8,662.4 L821.8,663.6 L822.8,664.7 L823.8,665.8 L824.8,666.9 L825.8,668.0 L826.8,669.1 L827.8,670.2 L828.8,671.3 L829.9,672.3 L830.9,673.4 L831.9,674.4 L833.0,675.5 L834.1,676.5 L835.1,677.5 L836.2,678.5 L837.3,679.5 L838.4,680.5 L839.6,681.4 L840.7,682.4 L841.8,683.3 L843.0,684.2 L844.1,685.1 L845.3,686.0 L846.5,686.9 L847.7,687.7 L848.9,688.6 L850.1,689.4 L851.4,690.2 L852.6,691.0 L853.9,691.7 L855.2,692.5 L856.5,693.2 L857.8,694.0 L859.1,694.7 L860.4,695.4 L861.8,696.0 L863.1,696.7 L864.5,697.3 L865.8,698.0 L867.2,698.6 L868.6,699.2 L870.0,699.8 L871.4,700.4 L872.8,701.0 L874.2,701.6 L875.6,702.2 L877.1,702.8 L878.5,703.4 L879.9,704.0 L881.3,704.5 L882.7,705.1 L884.2,705.7 L885.6,706.3 L887.0,706.9 L888.4,707.5 L889.8,708.1 L891.2,708.7 L892.6,709.3 L894.0,709.9 L895.3,710.5 L896.7,711.2 L898.1,711.8 L899.4,712.5 L900.8,713.2 L902.1,713.9 L903.4,714.6 L904.7,715.3 L906.0,716.0 L907.3,716.8 L908.6,717.5 L909.9,718.3 L911.1,719.1 L912.4,719.9 L913.7,720.6 L914.9,721.4 L916.2,722.2 L917.4,723.0 L918.7,723.9 L919.9,724.7 L921.2,725.5 L922.4,726.3 L923.7,727.1 L924.9,727.9 L926.2,728.7 L927.4,729.6 L928.7,730.4 L930.0,731.2 L931.2,732.0 L932.5,732.8 L933.8,733.6 L935.1,734.4 L936.4,735.1 L937.7,735.9 L939.0,736.7 L940.3,737.4 L941.6,738.1 L942.9,738.8 L944.2,739.5 L945.6,740.2 L946.9,740.9 L948.3,741.5 L949.6,742.1 L951.0,742.7 L952.4,743.3 L953.8,743.9 L955.2,744.4 L956.6,744.9 L958.0,745.4 L959.4,745.8 L960.8,746.3 L962.2,746.7 L963.7,747.1 L965.1,747.5 L966.6,747.8 L968.0,748.2 L969.5,748.5 L970.9,748.8 L972.4,749.1 L973.9,749.4 L975.4,749.7 L976.8,750.0 L978.3,750.2 L979.8,750.5 L981.3,750.8 L982.7,751.0 L984.2,751.3 L985.7,751.6 L987.2,751.8 L988.7,752.1 L990.1,752.3 L991.6,752.6 L993.1,752.8 L994.6,753.1 L996.1,753.3 L997.5,753.6 L999.0,753.8 L1000.5,754.1 L1002.0,754.3 L1003.5,754.6 L1005.0,754.8 L1006.4,755.0 L1007.9,755.3 L1009.4,755.5 L1010.9,755.8 L1012.4,756.0 L1013.8,756.2 L1015.3,756.5 L1016.8,756.7 L1018.3,756.9 L1019.8,757.2 L1021.3,757.4 L1022.7,757.6 L1024.2,757.8 L1025.7,758.1 L1027.2,758.3 L1028.7,758.5 L1030.2,758.7 L1031.6,759.0 L1033.1,759.2 L1034.6,759.4 L1036.1,759.6 L1037.6,759.8 L1039.1,760.0 L1040.6,760.3 L1042.0,760.5 L1043.5,760.7 L1045.0,760.9 L1046.5,761.1 L1048.0,761.3 L1049.5,761.5 L1051.0,761.7 L1052.4,761.9 L1053.9,762.1 L1055.4,762.3 L1056.9,762.5 L1058.4,762.7 L1059.9,762.9 L1061.4,763.1 L1062.8,763.3 L1064.3,763.5 L1065.8,763.7 L1067.3,763.9 L1068.8,764.1 L1070.3,764.3 L1071.8,764.5 L1073.3,764.7 L1074.7,764.9 L1076.2,765.1 L1077.7,765.3 L1079.2,765.5 L1080.7,765.7 L1082.2,765.9 L1083.7,766.1 L1085.2,766.2 L1086.6,766.4 L1088.1,766.6 L1089.6,766.8 L1091.1,767.0 L1092.6,767.2 L1094.1,767.4 L1095.6,767.5 L1097.1,767.7 L1098.6,767.9 L1100.0,768.1 L1101.5,768.3 L1103.0,768.5 L1104.5,768.6 L1106.0,768.8 L1107.5,769.0 L1109.0,769.2 L1110.5,769.3 L1112.0,769.5 L1113.5,769.7 L1114.9,769.9 L1116.4,770.1 L1117.9,770.2 L1119.4,770.4 L1120.9,770.6 L1122.4,770.8 L1123.9,770.9 L1125.4,771.1 L1126.9,771.3 L1128.4,771.4 L1129.8,771.6 L1131.3,771.8 L1132.8,772.0 L1134.3,772.1 L1135.8,772.3 L1137.3,772.5 L1138.8,772.6 L1140.3,772.8 L1141.8,773.0 L1143.3,773.1 L1144.8,773.3 L1146.2,773.5 L1147.7,773.7 L1149.2,773.8 L1150.7,774.0 L1152.2,774.2 L1153.7,774.3 L1155.2,774.5 L1156.7,774.7 L1158.2,774.8 L1159.7,775.0 L1161.2,775.2 L1162.7,775.3 L1164.1,775.5 L1165.6,775.7 L1167.1,775.8 L1168.6,776.0 L1170.1,776.2 L1171.6,776.3 L1173.1,776.5 L1174.6,776.7 L1176.1,776.8 L1177.6,777.0 L1179.1,777.1 L1180.6,777.3 L1182.1,777.5 L1183.5,777.6 L1185.0,777.8 L1186.5,778.0 L1188.0,778.1 L1189.5,778.3 L1191.0,778.5 L1192.5,778.6 L1194.0,778.8 L1195.5,779.0 L1197.0,779.1 L1198.5,779.3 L1200.0,779.5 L1201.5,779.6 L1202.9,779.8 L1204.4,780.0 L1205.9,780.1 L1207.4,780.3 L1208.9,780.5 L1210.4,780.6 L1211.9,780.8 L1213.4,781.0 L1214.9,781.1 L1216.4,781.3 L1217.9,781.5 L1219.4,781.6 L1220.9,781.8 L1222.3,782.0 L1223.8,782.2 L1225.3,782.3 L1226.8,782.5 L1228.3,782.7 L1229.8,782.8 L1231.3,783.0 L1232.8,783.2 L1234.3,783.4 L1235.8,783.5 L1237.3,783.7 L1238.8,783.9 L1240.3,784.1 L1241.7,784.2 L1243.2,784.4 L1244.7,784.6 L1246.2,784.8 L1247.7,784.9 L1249.2,785.1 L1250.7,785.3 L1252.2,785.5 L1253.7,785.6 L1255.2,785.8 L1256.7,786.0 L1258.2,786.2 L1259.7,786.4 L1261.1,786.5 L1262.6,786.7 L1264.1,786.9 L1265.6,787.1 L1267.1,787.3 L1268.6,787.5 L1270.1,787.6 L1271.6,787.8 L1273.1,788.0 L1274.6,788.2 L1276.1,788.4 L1277.6,788.6 L1279.0,788.8" stroke="#719a7e" stroke-width="2.9"/>
<path d="M156.6,801.7 L158.2,801.6 L159.8,801.5 L161.4,801.4 L163.0,801.4 L164.6,801.3 L166.2,801.3 L167.7,801.2 L169.3,801.2 L170.8,801.1 L172.4,801.1 L173.9,801.1 L175.4,801.1 L176.9,801.1 L178.4,801.0 L179.9,801.0 L181.4,801.0 L182.9,801.0 L184.4,801.0 L185.8,801.0 L187.3,801.0 L188.8,801.0 L190.2,801.0 L191.7,800.9 L193.1,800.9 L194.6,800.9 L196.0,800.9 L197.5,800.8 L198.9,800.8 L200.4,800.8 L201.8,800.7 L203.3,800.7 L204.7,800.6 L206.1,800.5 L207.6,800.4 L209.0,800.4 L210.5,800.3 L211.9,800.1 L213.4,800.0 L214.8,799.9 L216.3,799.7 L217.8,799.6 L219.2,799.4 L220.7,799.2 L222.2,799.0 L223.7,798.8 L225.2,798.6 L226.7,798.3 L228.2,798.1 L229.7,797.8 L231.2,797.5 L232.7,797.2 L234.2,796.9 L235.8,796.5 L237.3,796.1 L238.9,795.7 L240.4,795.3 L242.0,794.9 L243.5,794.3 L244.9,793.8 L246.3,793.1 L247.6,792.4 L248.9,791.5 L250.0,790.6 L251.0,789.5 L251.8,788.3 L252.6,787.0 L253.2,785.7 L253.7,784.2 L254.2,782.8 L254.7,781.3 L255.1,779.9 L255.4,778.4 L255.7,776.9 L256.0,775.4 L256.3,774.0 L256.6,772.5 L256.8,771.0 L257.0,769.5 L257.2,768.0 L257.4,766.6 L257.6,765.1 L257.7,763.6 L257.9,762.1 L258.1,760.6 L258.3,759.1 L258.5,757.6 L258.7,756.1 L258.9,754.6 L259.1,753.2 L259.3,751.7 L259.5,750.2 L259.8,748.7 L260.0,747.2 L260.2,745.7 L260.5,744.2 L260.7,742.7 L261.0,741.3 L261.2,739.8 L261.5,738.3 L261.7,736.8 L261.9,735.3 L262.2,733.8 L262.4,732.4 L262.6,730.9 L262.9,729.4 L263.1,727.9 L263.3,726.4 L263.5,725.0 L263.8,723.5 L264.0,722.0 L264.2,720.5 L264.4,719.0 L264.6,717.6 L264.8,716.1 L265.0,714.6 L265.2,713.1 L265.4,711.6 L265.6,710.1 L265.8,708.6 L266.0,707.1 L266.3,705.6 L266.5,704.1 L266.8,702.6 L267.1,701.1 L267.6,699.7 L268.2,698.2 L269.0,696.8 L270.0,695.4 L271.1,694.3 L272.3,693.6 L273.4,693.6 L274.4,694.2 L275.4,695.2 L276.2,696.5 L277.0,697.9 L277.7,699.3 L278.4,700.7 L279.0,702.2 L279.5,703.6 L279.9,705.1 L280.4,706.5 L280.7,708.0 L281.1,709.5 L281.4,710.9 L281.6,712.4 L281.9,713.9 L282.1,715.4 L282.3,716.9 L282.5,718.4 L282.7,719.9 L283.0,721.3 L283.2,722.8 L283.4,724.3 L283.6,725.8 L283.8,727.3 L284.0,728.7 L284.2,730.2 L284.4,731.7 L284.6,733.2 L284.8,734.7 L285.0,736.2 L285.2,737.6 L285.4,739.1 L285.6,740.6 L285.7,742.1 L285.9,743.6 L286.1,745.1 L286.2,746.7 L286.3,748.2 L286.5,749.7 L286.6,751.2 L286.7,752.7 L286.8,754.2 L287.0,755.7 L287.1,757.2 L287.2,758.6 L287.3,760.0 L287.5,761.4 L287.6,762.8 L287.7,764.3 L287.9,765.7 L288.0,767.2 L288.2,768.7 L288.4,770.3 L288.5,772.1 L288.7,773.8 L288.9,775.7 L289.2,777.4 L289.7,778.9 L290.2,780.2 L291.0,781.1 L292.1,781.5 L293.3,781.4 L294.6,780.9 L295.9,780.1 L297.1,779.0 L298.3,777.7 L299.4,776.5 L300.4,775.2 L301.3,773.9 L302.2,772.6 L303.0,771.3 L303.7,770.0 L304.4,768.6 L305.0,767.2 L305.5,765.8 L306.0,764.4 L306.4,763.0 L306.9,761.6 L307.2,760.2 L307.6,758.7 L307.9,757.3 L308.2,755.8 L308.5,754.4 L308.7,752.9 L309.0,751.4 L309.2,750.0 L309.4,748.5 L309.6,747.0 L309.8,745.5 L309.9,744.0 L310.1,742.5 L310.3,741.0 L310.4,739.6 L310.6,738.1 L310.7,736.6 L310.9,735.1 L311.0,733.6 L311.2,732.1 L311.4,730.6 L311.6,729.1 L311.7,727.6 L311.9,726.1 L312.2,724.6 L312.4,723.1 L312.6,721.7 L312.9,720.2 L313.1,718.7 L313.4,717.2 L313.7,715.8 L314.0,714.3 L314.3,712.8 L314.5,711.3 L314.9,709.9 L315.2,708.4 L315.5,706.9 L315.8,705.5 L316.1,704.0 L316.4,702.5 L316.8,701.1 L317.1,699.6 L317.4,698.1 L317.7,696.7 L318.1,695.2 L318.4,693.7 L318.7,692.3 L319.1,690.8 L319.4,689.3 L319.7,687.9 L320.0,686.4 L320.3,684.9 L320.7,683.5 L321.0,682.0 L321.3,680.5 L321.6,679.1 L321.9,677.6 L322.2,676.1 L322.6,674.6 L322.9,673.2 L323.2,671.7 L323.5,670.2 L323.8,668.8 L324.1,667.3 L324.4,665.8 L324.7,664.4 L325.0,662.9 L325.3,661.4 L325.6,660.0 L325.9,658.5 L326.2,657.0 L326.5,655.5 L326.8,654.1 L327.1,652.6 L327.4,651.1 L327.7,649.7 L328.0,648.2 L328.3,646.7 L328.6,645.2 L328.9,643.8 L329.2,642.3 L329.5,640.8 L329.8,639.4 L330.1,637.9 L330.4,636.4 L330.6,634.9 L330.9,633.5 L331.2,632.0 L331.5,630.5 L331.8,629.1 L332.1,627.6 L332.4,626.1 L332.6,624.6 L332.9,623.2 L333.2,621.7 L333.5,620.2 L333.8,618.7 L334.0,617.3 L334.3,615.8 L334.6,614.3 L334.9,612.8 L335.1,611.4 L335.4,609.9 L335.7,608.4 L336.0,606.9 L336.2,605.5 L336.5,604.0 L336.8,602.5 L337.1,601.0 L337.3,599.6 L337.6,598.1 L337.9,596.6 L338.1,595.1 L338.4,593.7 L338.7,592.2 L338.9,590.7 L339.2,589.2 L339.5,587.8 L339.7,586.3 L340.0,584.8 L340.2,583.3 L340.5,581.9 L340.8,580.4 L341.0,578.9 L341.3,577.4 L341.6,575.9 L341.8,574.5 L342.1,573.0 L342.3,571.5 L342.6,570.0 L342.8,568.6 L343.1,567.1 L343.4,565.6 L343.6,564.1 L343.9,562.6 L344.1,561.2 L344.4,559.7 L344.6,558.2 L344.9,556.7 L345.1,555.3 L345.4,553.8 L345.6,552.3 L345.9,550.8 L346.1,549.3 L346.4,547.9 L346.6,546.4 L346.9,544.9 L347.1,543.4 L347.4,541.9 L347.6,540.5 L347.9,539.0 L348.1,537.5 L348.4,536.0 L348.6,534.5 L348.9,533.1 L349.1,531.6 L349.4,530.1 L349.6,528.6 L349.9,527.1 L350.1,525.7 L350.4,524.2 L350.6,522.7 L350.8,521.2 L351.1,519.7 L351.3,518.3 L351.6,516.8 L351.8,515.3 L352.1,513.8 L352.3,512.3 L352.6,510.8 L352.8,509.4 L353.0,507.9 L353.3,506.4 L353.5,504.9 L353.8,503.4 L354.0,502.0 L354.2,500.5 L354.5,499.0 L354.7,497.5 L355.0,496.0 L355.2,494.5 L355.4,493.1 L355.7,491.6 L355.9,490.1 L356.1,488.6 L356.4,487.1 L356.6,485.6 L356.8,484.2 L357.1,482.7 L357.3,481.2 L357.5,479.7 L357.8,478.2 L358.0,476.7 L358.2,475.3 L358.5,473.8 L358.7,472.3 L358.9,470.8 L359.1,469.3 L359.4,467.8 L359.6,466.4 L359.8,464.9 L360.0,463.4 L360.3,461.9 L360.5,460.4 L360.7,458.9 L360.9,457.4 L361.1,456.0 L361.4,454.5 L361.6,453.0 L361.8,451.5 L362.0,450.0 L362.2,448.5 L362.4,447.0 L362.7,445.6 L362.9,444.1 L363.1,442.6 L363.3,441.1 L363.5,439.6 L363.7,438.1 L363.9,436.6 L364.1,435.1 L364.3,433.7 L364.5,432.2 L364.7,430.7 L364.9,429.2 L365.1,427.7 L365.3,426.2 L365.5,424.7 L365.7,423.2 L365.9,421.7 L366.1,420.3 L366.3,418.8 L366.5,417.3 L366.7,415.8 L366.9,414.3 L367.0,412.8 L367.2,411.3 L367.4,409.8 L367.6,408.3 L367.8,406.8 L368.0,405.4 L368.1,403.9 L368.3,402.4 L368.5,400.9 L368.7,399.4 L368.8,397.9 L369.0,396.4 L369.2,394.9 L369.4,393.4 L369.5,391.9 L369.7,390.4 L369.9,388.9 L370.1,387.5 L370.2,386.0 L370.4,384.5 L370.6,383.0 L370.7,381.5 L370.9,380.0 L371.1,378.5 L371.3,377.0 L371.4,375.5 L371.6,374.0 L371.8,372.5 L371.9,371.1 L372.1,369.6 L372.3,368.1 L372.5,366.6 L372.6,365.1 L372.8,363.6 L373.0,362.1 L373.2,360.6 L373.4,359.1 L373.5,357.6 L373.7,356.1 L373.9,354.7 L374.1,353.2 L374.3,351.7 L374.5,350.2 L374.6,348.7 L374.8,347.2 L375.0,345.7 L375.2,344.2 L375.4,342.7 L375.6,341.3 L375.8,339.8 L376.0,338.3 L376.2,336.8 L376.4,335.3 L376.6,333.8 L376.8,332.3 L377.0,330.9 L377.2,329.4 L377.4,327.9 L377.7,326.4 L377.9,324.9 L378.1,323.4 L378.3,321.9 L378.5,320.5 L378.8,319.0 L379.0,317.5 L379.2,316.0 L379.5,314.5 L379.7,313.1 L380.0,311.6 L380.2,310.1 L380.5,308.6 L380.7,307.1 L381.0,305.7 L381.2,304.2 L381.5,302.7 L381.7,301.2 L382.0,299.7 L382.3,298.3 L382.6,296.8 L382.8,295.3 L383.1,293.8 L383.4,292.4 L383.7,290.9 L384.0,289.4 L384.3,288.0 L384.6,286.5 L384.9,285.0 L385.2,283.5 L385.5,282.1 L385.9,280.6 L386.2,279.1 L386.5,277.7 L386.8,276.2 L387.2,274.8 L387.5,273.3 L387.9,271.8 L388.2,270.4 L388.6,268.9 L388.9,267.5 L389.3,266.0 L389.7,264.5 L390.0,263.1 L390.4,261.6 L390.8,260.2 L391.2,258.7 L391.6,257.3 L392.0,255.8 L392.4,254.4 L392.8,253.0 L393.2,251.5 L393.6,250.1 L394.1,248.6 L394.5,247.2 L394.9,245.7 L395.4,244.3 L395.8,242.9 L396.3,241.4 L396.7,240.0 L397.2,238.6 L397.7,237.2 L398.2,235.7 L398.6,234.3 L399.1,232.9 L399.6,231.5 L400.1,230.0 L400.6,228.6 L401.1,227.2 L401.7,225.8 L402.2,224.4 L402.7,223.0 L403.2,221.5 L403.7,220.1 L404.3,218.7 L404.8,217.3 L405.3,215.9 L405.8,214.5 L406.4,213.1 L406.9,211.7 L407.4,210.2 L407.9,208.8 L408.5,207.4 L409.0,206.0 L409.5,204.6 L410.0,203.2 L410.6,201.8 L411.1,200.3 L411.6,198.9 L412.1,197.5 L412.6,196.1 L413.1,194.7 L413.6,193.3 L414.1,191.8 L414.6,190.4 L415.1,189.0 L415.5,187.6 L416.0,186.1 L416.5,184.7 L416.9,183.3 L417.4,181.9 L417.8,180.4 L418.3,179.0 L418.7,177.6 L419.1,176.1 L419.5,174.7 L419.9,173.2 L420.3,171.8 L420.7,170.3 L421.1,168.9 L421.4,167.4 L421.8,166.0 L422.1,164.5 L422.5,163.1 L422.8,161.6 L423.2,160.1 L423.5,158.7 L423.8,157.2 L424.2,155.8 L424.5,154.3 L424.8,152.8 L425.1,151.4 L425.4,149.9 L425.7,148.4 L426.0,147.0 L426.3,145.5 L426.6,144.0 L426.9,142.5 L427.2,141.1 L427.5,139.6 L427.8,138.1 L428.1,136.6 L428.4,135.2 L428.7,133.7 L429.0,132.2 L429.3,130.8 L429.6,129.3 L429.8,127.8 L430.1,126.3 L430.4,124.9 L430.7,123.4 L431.0,121.9 L431.3,120.4 L431.6,119.0 L431.9,117.5 L432.2,116.0 L432.5,114.6 L432.9,113.1 L433.2,111.6 L433.5,110.1 L433.8,108.7 L434.1,107.2 L434.5,105.8 L434.8,104.3 L435.2,102.8 L435.5,101.4 L435.9,99.9 L436.2,98.5 L436.6,97.0 L437.0,95.5 L437.4,94.1 L437.7,92.6 L438.1,91.2 L438.5,89.8 L439.0,88.3 L439.4,86.9 L439.8,85.4 L440.2,84.0 L440.7,82.6 L441.1,81.1 L441.6,79.7 L442.1,78.3 L442.5,76.9 L443.1,75.5 L443.6,74.1 L444.2,72.7 L444.9,71.3 L445.6,69.9 L446.4,68.5 L447.4,67.2 L448.4,66.1 L449.6,65.3 L450.9,64.9 L452.3,64.9 L453.7,65.3 L455.2,65.8 L456.6,66.5 L458.0,67.3 L459.3,68.2 L460.5,69.1 L461.6,70.1 L462.8,71.0 L463.9,72.0 L465.0,73.0 L466.2,74.0 L467.3,75.0 L468.4,75.9 L469.6,76.9 L470.7,77.8 L471.9,78.8 L473.0,79.8 L474.1,80.7 L475.3,81.7 L476.4,82.8 L477.5,83.8 L478.6,84.8 L479.7,85.9 L480.8,87.0 L481.8,88.1 L482.8,89.2 L483.8,90.3 L484.7,91.5 L485.6,92.7 L486.5,93.9 L487.3,95.2 L488.1,96.4 L488.8,97.7 L489.5,99.0 L490.1,100.4 L490.7,101.7 L491.3,103.1 L491.8,104.5 L492.3,105.9 L492.8,107.4 L493.2,108.8 L493.7,110.2 L494.1,111.7 L494.5,113.1 L494.9,114.6 L495.3,116.1 L495.8,117.5 L496.2,118.9 L496.7,120.4 L497.1,121.8 L497.6,123.2 L498.1,124.7 L498.6,126.1 L499.1,127.5 L499.7,128.9 L500.2,130.3 L500.7,131.7 L501.3,133.1 L501.8,134.5 L502.4,135.9 L503.0,137.3 L503.5,138.6 L504.1,140.0 L504.7,141.4 L505.3,142.8 L505.8,144.2 L506.4,145.6 L507.0,146.9 L507.6,148.3 L508.2,149.7 L508.8,151.1 L509.4,152.5 L510.0,153.8 L510.6,155.2 L511.2,156.6 L511.8,158.0 L512.4,159.4 L513.0,160.7 L513.6,162.1 L514.2,163.5 L514.8,164.9 L515.4,166.2 L516.0,167.6 L516.6,169.0 L517.3,170.4 L517.9,171.7 L518.5,173.1 L519.2,174.5 L519.8,175.8 L520.4,177.2 L521.1,178.6 L521.7,179.9 L522.3,181.3 L523.0,182.7 L523.6,184.0 L524.3,185.4 L524.9,186.7 L525.6,188.1 L526.2,189.4 L526.9,190.8 L527.6,192.1 L528.2,193.5 L528.9,194.8 L529.6,196.2 L530.2,197.5 L530.9,198.9 L531.6,200.2 L532.3,201.6 L533.0,202.9 L533.7,204.3 L534.4,205.6 L535.1,206.9 L535.8,208.3 L536.5,209.6 L537.2,210.9 L537.9,212.2 L538.6,213.6 L539.3,214.9 L540.0,216.2 L540.7,217.5 L541.5,218.9 L542.2,220.2 L542.9,221.5 L543.7,222.8 L544.4,224.1 L545.1,225.4 L545.9,226.7 L546.6,228.0 L547.4,229.3 L548.1,230.6 L548.9,231.9 L549.7,233.2 L550.4,234.5 L551.2,235.8 L552.0,237.1 L552.8,238.3 L553.5,239.6 L554.3,240.9 L555.1,242.2 L555.9,243.4 L556.7,244.7 L557.5,246.0 L558.3,247.2 L559.1,248.5 L559.9,249.8 L560.7,251.0 L561.6,252.3 L562.4,253.5 L563.2,254.8 L564.0,256.0 L564.9,257.2 L565.7,258.5 L566.6,259.7 L567.4,260.9 L568.3,262.2 L569.1,263.4 L570.0,264.6 L570.9,265.8 L571.7,267.0 L572.6,268.3 L573.5,269.5 L574.4,270.7 L575.3,271.9 L576.1,273.1 L577.0,274.3 L577.9,275.4 L578.8,276.6 L579.8,277.8 L580.7,279.0 L581.6,280.2 L582.5,281.3 L583.4,282.5 L584.4,283.7 L585.3,284.8 L586.3,286.0 L587.2,287.1 L588.2,288.3 L589.1,289.4 L590.1,290.6 L591.0,291.7 L592.0,292.9 L593.0,294.0 L594.0,295.1 L594.9,296.2 L595.9,297.3 L596.9,298.5 L597.9,299.6 L598.9,300.7 L599.9,301.8 L600.9,302.9 L601.9,304.0 L603.0,305.1 L604.0,306.2 L605.0,307.3 L606.0,308.4 L607.1,309.4 L608.1,310.5 L609.1,311.6 L610.2,312.7 L611.2,313.7 L612.3,314.8 L613.3,315.9 L614.4,316.9 L615.4,318.0 L616.5,319.1 L617.6,320.1 L618.6,321.2 L619.7,322.2 L620.8,323.3 L621.8,324.3 L622.9,325.4 L624.0,326.4 L625.1,327.5 L626.1,328.5 L627.2,329.6 L628.3,330.6 L629.4,331.6 L630.5,332.7 L631.6,333.7 L632.7,334.7 L633.8,335.8 L634.9,336.8 L636.0,337.8 L637.1,338.9 L638.2,339.9 L639.3,340.9 L640.4,341.9 L641.5,343.0 L642.6,344.0 L643.7,345.0 L644.8,346.0 L645.9,347.1 L647.0,348.1 L648.1,349.1 L649.2,350.1 L650.4,351.1 L651.5,352.1 L652.6,353.2 L653.7,354.2 L654.8,355.2 L655.9,356.2 L657.0,357.2 L658.1,358.3 L659.3,359.3 L660.4,360.3 L661.5,361.3 L662.6,362.3 L663.7,363.3 L664.8,364.4 L665.9,365.4 L667.1,366.4 L668.2,367.4 L669.3,368.4 L670.4,369.5 L671.5,370.5 L672.6,371.5 L673.7,372.5 L674.8,373.6 L675.9,374.6 L677.0,375.6 L678.1,376.6 L679.3,377.7 L680.4,378.7 L681.5,379.7 L682.6,380.8 L683.6,381.8 L684.7,382.8 L685.8,383.9 L686.9,384.9 L688.0,385.9 L689.1,387.0 L690.2,388.0 L691.3,389.1 L692.4,390.1 L693.4,391.2 L694.5,392.2 L695.6,393.3 L696.7,394.3 L697.7,395.4 L698.8,396.4 L699.9,397.5 L700.9,398.6 L702.0,399.6 L703.1,400.7 L704.1,401.8 L705.2,402.9 L706.2,403.9 L707.3,405.0 L708.3,406.1 L709.3,407.2 L710.4,408.3 L711.4,409.3 L712.5,410.4 L713.5,411.5 L714.5,412.6 L715.6,413.7 L716.6,414.8 L717.6,415.9 L718.6,417.0 L719.6,418.1 L720.7,419.2 L721.7,420.3 L722.7,421.4 L723.7,422.5 L724.7,423.6 L725.7,424.8 L726.7,425.9 L727.7,427.0 L728.7,428.1 L729.7,429.2 L730.7,430.3 L731.7,431.5 L732.7,432.6 L733.7,433.7 L734.7,434.8 L735.7,436.0 L736.7,437.1 L737.7,438.2 L738.6,439.4 L739.6,440.5 L740.6,441.6 L741.6,442.8 L742.6,443.9 L743.5,445.0 L744.5,446.2 L745.5,447.3 L746.5,448.5 L747.4,449.6 L748.4,450.8 L749.4,451.9 L750.3,453.1 L751.3,454.2 L752.3,455.3 L753.2,456.5 L754.2,457.6 L755.2,458.8 L756.1,459.9 L757.1,461.1 L758.0,462.3 L759.0,463.4 L760.0,464.6 L760.9,465.7 L761.9,466.9 L762.8,468.0 L763.8,469.2 L764.7,470.4 L765.7,471.5 L766.6,472.7 L767.6,473.8 L768.5,475.0 L769.5,476.2 L770.4,477.3 L771.4,478.5 L772.3,479.6 L773.3,480.8 L774.2,482.0 L775.2,483.1 L776.1,484.3 L777.1,485.5 L778.0,486.6 L778.9,487.8 L779.9,488.9 L780.8,490.1 L781.8,491.3 L782.7,492.4 L783.7,493.6 L784.6,494.8 L785.6,495.9 L786.5,497.1 L787.4,498.3 L788.4,499.4 L789.3,500.6 L790.3,501.7 L791.2,502.9 L792.2,504.1 L793.1,505.2 L794.1,506.4 L795.0,507.6 L795.9,508.7 L796.9,509.9 L797.8,511.0 L798.8,512.2 L799.7,513.4 L800.7,514.5 L801.6,515.7 L802.6,516.8 L803.5,518.0 L804.5,519.2 L805.4,520.3 L806.4,521.5 L807.3,522.6 L808.3,523.8 L809.2,524.9 L810.2,526.1 L811.1,527.2 L812.1,528.4 L813.0,529.6 L814.0,530.7 L814.9,531.9 L815.9,533.0 L816.8,534.2 L817.8,535.3 L818.7,536.5 L819.6,537.7 L820.5,538.9 L821.4,540.1 L822.3,541.3 L823.2,542.5 L824.1,543.7 L824.9,544.9 L825.8,546.2 L826.6,547.4 L827.4,548.7 L828.2,550.0 L829.0,551.3 L829.7,552.7 L830.4,554.0 L831.1,555.4 L831.8,556.8 L832.5,558.2 L833.2,559.5 L833.9,560.9 L834.6,562.3 L835.3,563.6 L836.0,565.0 L836.8,566.3 L837.6,567.5 L838.4,568.8 L839.3,570.0 L840.2,571.1 L841.2,572.2 L842.2,573.2 L843.3,574.3 L844.4,575.2 L845.5,576.2 L846.7,577.1 L847.9,578.0 L849.1,578.8 L850.4,579.6 L851.6,580.4 L852.9,581.2 L854.3,582.0 L855.6,582.7 L857.0,583.4 L858.3,584.2 L859.7,584.9 L861.1,585.6 L862.5,586.3 L863.8,587.0 L865.2,587.7 L866.6,588.4 L868.0,589.1 L869.3,589.8 L870.7,590.5 L872.0,591.2 L873.4,592.0 L874.7,592.8 L876.0,593.5 L877.2,594.4 L878.5,595.2 L879.7,596.0 L881.0,596.9 L882.2,597.7 L883.3,598.6 L884.5,599.5 L885.7,600.4 L886.8,601.3 L888.0,602.3 L889.1,603.2 L890.2,604.2 L891.3,605.2 L892.4,606.2 L893.4,607.2 L894.5,608.2 L895.5,609.2 L896.6,610.3 L897.6,611.3 L898.6,612.4 L899.6,613.4 L900.6,614.5 L901.6,615.6 L902.6,616.7 L903.6,617.8 L904.6,619.0 L905.5,620.1 L906.5,621.2 L907.4,622.4 L908.4,623.5 L909.3,624.7 L910.3,625.8 L911.2,627.0 L912.1,628.2 L913.0,629.4 L914.0,630.6 L914.9,631.8 L915.8,633.0 L916.7,634.2 L917.6,635.4 L918.5,636.6 L919.5,637.8 L920.4,639.0 L921.3,640.3 L922.2,641.5 L923.1,642.7 L924.0,643.9 L925.0,645.1 L925.9,646.3 L926.8,647.6 L927.7,648.8 L928.7,650.0 L929.6,651.2 L930.6,652.3 L931.5,653.5 L932.5,654.7 L933.4,655.9 L934.4,657.0 L935.4,658.2 L936.4,659.3 L937.4,660.5 L938.4,661.6 L939.4,662.7 L940.4,663.8 L941.4,664.9 L942.5,666.0 L943.5,667.0 L944.6,668.1 L945.6,669.1 L946.7,670.1 L947.8,671.1 L948.9,672.1 L950.0,673.1 L951.2,674.1 L952.3,675.0 L953.4,676.0 L954.6,676.9 L955.7,677.8 L956.9,678.8 L958.1,679.7 L959.3,680.6 L960.5,681.4 L961.7,682.3 L962.9,683.2 L964.1,684.0 L965.3,684.9 L966.5,685.7 L967.8,686.5 L969.0,687.3 L970.3,688.2 L971.5,689.0 L972.8,689.8 L974.0,690.5 L975.3,691.3 L976.6,692.1 L977.9,692.9 L979.1,693.6 L980.4,694.4 L981.7,695.2 L983.0,695.9 L984.3,696.7 L985.6,697.4 L986.9,698.1 L988.3,698.9 L989.6,699.6 L990.9,700.3 L992.2,701.1 L993.5,701.8 L994.8,702.5 L996.2,703.2 L997.5,704.0 L998.8,704.7 L1000.2,705.4 L1001.5,706.1 L1002.8,706.8 L1004.2,707.5 L1005.5,708.3 L1006.8,709.0 L1008.2,709.7 L1009.5,710.4 L1010.8,711.1 L1012.1,711.9 L1013.5,712.6 L1014.8,713.3 L1016.1,714.0 L1017.5,714.8 L1018.8,715.5 L1020.1,716.3 L1021.4,717.0 L1022.7,717.7 L1024.1,718.5 L1025.4,719.3 L1026.7,720.0 L1028.0,720.8 L1029.3,721.6 L1030.6,722.3 L1031.9,723.1 L1033.2,723.9 L1034.4,724.7 L1035.7,725.5 L1037.0,726.3 L1038.3,727.2 L1039.5,728.0 L1040.8,728.8 L1042.0,729.7 L1043.3,730.5 L1044.5,731.4 L1045.8,732.3 L1047.0,733.2 L1048.2,734.1 L1049.4,735.0 L1050.6,735.9 L1051.8,736.8 L1053.0,737.7 L1054.2,738.7 L1055.4,739.6 L1056.6,740.6 L1057.8,741.5 L1059.0,742.5 L1060.1,743.4 L1061.3,744.4 L1062.5,745.3 L1063.7,746.2 L1064.9,747.2 L1066.0,748.1 L1067.2,749.0 L1068.4,749.9 L1069.6,750.8 L1070.8,751.6 L1072.1,752.5 L1073.3,753.3 L1074.5,754.1 L1075.8,754.9 L1077.0,755.7 L1078.3,756.4 L1079.6,757.1 L1080.9,757.8 L1082.2,758.5 L1083.5,759.1 L1084.9,759.7 L1086.2,760.3 L1087.6,760.8 L1089.0,761.3 L1090.4,761.8 L1091.8,762.3 L1093.2,762.7 L1094.6,763.1 L1096.1,763.5 L1097.5,763.9 L1099.0,764.2 L1100.5,764.6 L1101.9,764.9 L1103.4,765.2 L1104.9,765.5 L1106.4,765.8 L1107.9,766.0 L1109.4,766.3 L1110.9,766.5 L1112.4,766.7 L1113.9,767.0 L1115.4,767.2 L1116.9,767.4 L1118.4,767.6 L1120.0,767.8 L1121.5,768.0 L1123.0,768.2 L1124.5,768.4 L1126.0,768.6 L1127.5,768.8 L1129.0,769.0 L1130.5,769.2 L1132.0,769.4 L1133.5,769.6 L1135.0,769.7 L1136.5,769.9 L1138.0,770.1 L1139.5,770.3 L1141.0,770.5 L1142.5,770.6 L1144.0,770.8 L1145.4,771.0 L1146.9,771.2 L1148.4,771.3 L1149.9,771.5 L1151.4,771.7 L1152.9,771.9 L1154.4,772.0 L1155.9,772.2 L1157.4,772.4 L1158.9,772.6 L1160.3,772.8 L1161.8,772.9 L1163.3,773.1 L1164.8,773.3 L1166.3,773.5 L1167.8,773.6 L1169.2,773.8 L1170.7,774.0 L1172.2,774.2 L1173.7,774.4 L1175.2,774.6 L1176.7,774.8 L1178.1,775.0 L1179.6,775.2 L1181.1,775.4 L1182.6,775.6 L1184.1,775.8 L1185.5,776.0 L1187.0,776.2 L1188.5,776.4 L1190.0,776.6 L1191.4,776.8 L1192.9,777.0 L1194.4,777.3 L1195.9,777.5 L1197.4,777.7 L1198.8,778.0 L1200.3,778.2 L1201.8,778.5 L1203.3,778.7 L1204.7,779.0 L1206.2,779.2 L1207.7,779.5 L1209.2,779.7 L1210.6,780.0 L1212.1,780.3 L1213.6,780.6 L1215.1,780.9 L1216.5,781.1 L1218.0,781.4 L1219.5,781.7 L1221.0,782.0 L1222.4,782.3 L1223.9,782.6 L1225.4,782.9 L1226.9,783.2 L1228.4,783.5 L1229.8,783.8 L1231.3,784.1 L1232.8,784.4 L1234.3,784.7 L1235.7,784.9 L1237.2,785.2 L1238.7,785.5 L1240.2,785.8 L1241.7,786.0 L1243.2,786.3 L1244.6,786.5 L1246.1,786.8 L1247.6,787.0 L1249.1,787.3 L1250.6,787.5 L1252.1,787.7 L1253.6,787.9 L1255.0,788.1 L1256.5,788.3 L1258.0,788.5 L1259.5,788.6 L1261.0,788.8 L1262.5,788.9 L1264.0,789.0 L1265.5,789.2 L1267.0,789.3 L1268.5,789.3 L1270.0,789.4 L1271.5,789.5 L1273.0,789.5 L1274.5,789.5 L1276.0,789.5 L1277.5,789.5 L1279.0,789.5" stroke="#238c5e" stroke-width="3.4"/>
</g>
<g stroke="#aaaaaa" stroke-width="2.6" fill="none">
<line x1="140.5" y1="78.7" x2="157" y2="78.7"/>
<line x1="139" y1="325.7" x2="157" y2="325.7"/>
<line x1="140" y1="565.6" x2="157" y2="565.6"/>
<line x1="142.5" y1="808.7" x2="157" y2="808.7"/>
<line x1="158.5" y1="810" x2="158.5" y2="822"/>
<line x1="432" y1="810" x2="432" y2="823"/>
<line x1="688" y1="806" x2="688" y2="823.5"/>
<line x1="996" y1="810" x2="996" y2="822"/>
<line x1="1281.5" y1="810" x2="1281.5" y2="824"/>
</g>
<rect x="156.9" y="23.5" width="1122" height="787.25" stroke="#8c8c8c" stroke-width="3.6" fill="none"/>
<g font-size="54">
<text x="96" y="86.5">6</text>
<text x="91" y="335">4</text>
<text x="95" y="585">2</text>
<text x="111" y="805.5">0</text>
<text x="113" y="874">400</text>
<text x="394" y="877" letter-spacing="-1">500</text>
<text x="634" y="879" letter-spacing="-1">600</text>
<text x="956" y="879" letter-spacing="-1">700</text>
<text x="1241" y="872" letter-spacing="-1">800</text>
</g>
<text x="515" y="953" font-size="51.2">Wavelength [nm]</text>
<text transform="translate(61.5,550) rotate(-90)" font-size="51.5">Intensity [a.u.]</text>
<g font-size="45">
<text x="180" y="494.5">laser</text>
<text x="181" y="546">442 nm</text>
</g>
<g font-size="45" text-anchor="middle">
<text x="450" y="143">1</text>
<text x="450.5" y="335">2</text>
<text x="444.5" y="630.5">3</text>
<text x="432.2" y="742.5">4</text>
</g>
<line x1="273.5" y1="573" x2="273.5" y2="652" stroke="#888" stroke-width="2.6"/>
<polygon points="255,649 292,649 273.3,683.5" fill="#262626"/>
</svg>
</body></html>
